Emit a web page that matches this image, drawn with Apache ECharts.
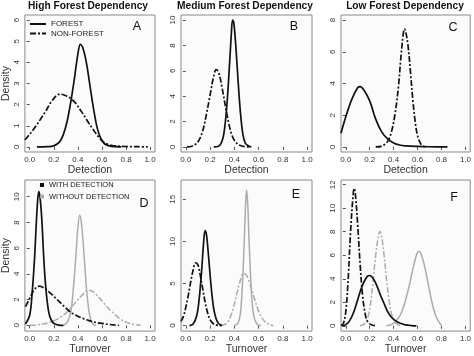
<!DOCTYPE html>
<html><head><meta charset="utf-8">
<script src="https://cdn.jsdelivr.net/npm/echarts/dist/echarts.min.js"></script>
<style>html,body{margin:0;padding:0;background:#fff}#c{width:474px;height:356px}</style>
</head><body><div id="c"></div>
<script>
// ---- data (x, density) ----
const X_TICKS = [0, 0.2, 0.4, 0.6, 0.8, 1.0];
const Y_TICKS_A = [0, 1, 2, 3, 4, 5, 6];
const Y_TICKS_B = [0, 2, 4, 6, 8, 10];
const Y_TICKS_C = [0, 2, 4, 6, 8];
const Y_TICKS_D = [0, 2, 4, 6, 8, 10];
const Y_TICKS_E = [0, 5, 10, 15];
const Y_TICKS_F = [0, 2, 4, 6, 8, 10, 12];

const PANEL_TITLES = ['High Forest Dependency', 'Medium Forest Dependency', 'Low Forest Dependency'];
const PANEL_LETTERS = ['A', 'B', 'C', 'D', 'E', 'F'];

// Panel A
const A_FOREST = [[0.06,0],[0.15,0.01],[0.2,0.05],[0.25,0.25],[0.28,0.6],[0.31,1.2],[0.34,2.1],[0.37,3.2],[0.40,4.4],[0.42,4.85],[0.44,4.7],[0.47,4.0],[0.50,2.9],[0.53,1.8],[0.56,0.9],[0.59,0.4],[0.62,0.15],[0.66,0.05],[0.72,0.01],[0.76,0]];
const A_NONFOREST = [[-0.04,0.33],[0.0,0.6],[0.05,0.98],[0.1,1.4],[0.13,1.67],[0.19,2.22],[0.25,2.5],[0.3,2.42],[0.36,2.2],[0.43,1.67],[0.49,1.13],[0.53,0.8],[0.57,0.48],[0.61,0.25],[0.65,0.12],[0.7,0.05],[0.8,0.02],[0.9,0.01],[0.98,0]];
// Panel B
const B_FOREST = [[0.23,0],[0.27,0.05],[0.30,0.5],[0.32,1.5],[0.34,3.5],[0.36,6.5],[0.375,8.9],[0.385,10.0],[0.395,9.8],[0.41,8.2],[0.43,5.3],[0.45,2.7],[0.47,1.0],[0.49,0.3],[0.52,0.05],[0.54,0]];
const B_NONFOREST = [[0.01,0],[0.05,0.05],[0.1,0.4],[0.14,1.3],[0.17,2.6],[0.20,4.1],[0.23,5.6],[0.25,6.1],[0.27,5.9],[0.30,4.6],[0.33,3.0],[0.36,1.6],[0.39,0.7],[0.43,0.2],[0.47,0.05],[0.52,0]];
// Panel C
const C_FOREST = [[-0.04,0.86],[0.0,1.9],[0.05,3.0],[0.1,3.75],[0.12,3.8],[0.15,3.6],[0.2,2.9],[0.25,1.75],[0.3,0.95],[0.35,0.5],[0.4,0.25],[0.45,0.12],[0.5,0.07],[0.6,0.03],[0.7,0.01],[0.85,0]];
const C_NONFOREST = [[0.25,0],[0.3,0.05],[0.35,0.35],[0.38,0.9],[0.41,2.0],[0.44,3.8],[0.46,5.6],[0.48,7.1],[0.49,7.45],[0.50,7.3],[0.52,6.4],[0.54,4.8],[0.56,3.0],[0.58,1.6],[0.60,0.7],[0.63,0.15],[0.66,0]];
// Panel D
const D_WITH_F = [[-0.035,0.1],[0.0,0.8],[0.02,2.5],[0.04,5.2],[0.055,8.0],[0.065,9.6],[0.075,10.4],[0.085,10.0],[0.1,8.3],[0.115,5.5],[0.13,3.3],[0.15,1.5],[0.17,0.6],[0.2,0.15],[0.24,0.02],[0.28,0]];
const D_WITH_NF = [[-0.035,1.45],[0.0,2.1],[0.04,2.8],[0.08,3.05],[0.12,2.9],[0.16,2.6],[0.2,2.25],[0.25,1.8],[0.3,1.35],[0.35,0.95],[0.4,0.7],[0.45,0.5],[0.5,0.35],[0.55,0.22],[0.6,0.15],[0.65,0.08],[0.7,0.03],[0.74,0]];
const D_WITHOUT_F = [[0.28,0],[0.31,0.2],[0.34,1.0],[0.36,2.6],[0.38,5.0],[0.40,7.6],[0.415,8.55],[0.43,7.9],[0.45,5.6],[0.47,3.0],[0.49,1.2],[0.51,0.35],[0.53,0.05],[0.55,0]];
const D_WITHOUT_NF = [[0.0,0],[0.1,0.08],[0.2,0.35],[0.25,0.6],[0.3,0.95],[0.35,1.45],[0.4,2.0],[0.45,2.5],[0.48,2.72],[0.52,2.65],[0.56,2.3],[0.6,1.9],[0.65,1.35],[0.7,0.9],[0.75,0.5],[0.8,0.25],[0.85,0.1],[0.92,0]];
// Panel E
const E_WITH_F = [[0.03,0],[0.06,0.2],[0.09,1.2],[0.11,3.2],[0.13,6.5],[0.145,9.6],[0.158,11.3],[0.17,10.8],[0.185,8.6],[0.2,6.0],[0.215,3.7],[0.23,2.0],[0.25,0.8],[0.27,0.25],[0.3,0]];
const E_WITH_NF = [[-0.04,0.5],[-0.02,1.1],[0.0,2.2],[0.02,3.6],[0.04,5.2],[0.06,6.6],[0.08,7.45],[0.1,7.2],[0.12,5.9],[0.14,4.3],[0.16,2.7],[0.18,1.5],[0.2,0.7],[0.23,0.2],[0.27,0.02],[0.29,0]];
const E_WITHOUT_F = [[0.40,0],[0.43,0.3],[0.45,1.5],[0.465,4.5],[0.48,9.5],[0.49,13.5],[0.50,16.1],[0.51,14.5],[0.52,10.5],[0.535,5.5],[0.55,2.2],[0.57,0.6],[0.6,0.05],[0.62,0]];
const E_WITHOUT_NF = [[0.29,0],[0.33,0.2],[0.36,0.8],[0.39,2.0],[0.42,3.8],[0.45,5.4],[0.475,6.2],[0.50,6.0],[0.53,4.9],[0.56,3.5],[0.59,2.1],[0.62,1.1],[0.65,0.5],[0.68,0.2],[0.72,0]];
// Panel F
const F_WITH_F = [[-0.03,0],[0.0,0.1],[0.03,0.4],[0.06,1.0],[0.09,1.9],[0.12,2.9],[0.15,3.7],[0.18,4.2],[0.2,4.28],[0.23,4.0],[0.26,3.4],[0.29,2.6],[0.32,1.9],[0.35,1.2],[0.38,0.75],[0.42,0.4],[0.46,0.2],[0.5,0.08],[0.55,0.02],[0.59,0]];
const F_WITH_NF = [[-0.04,0.02],[-0.02,0.2],[0.0,1.2],[0.02,4.0],[0.04,8.0],[0.06,11.0],[0.07,11.7],[0.08,11.2],[0.1,8.5],[0.12,5.2],[0.14,2.6],[0.16,1.1],[0.18,0.4],[0.21,0.1],[0.25,0]];
const F_WITHOUT_F = [[0.34,0],[0.38,0.1],[0.42,0.4],[0.46,1.0],[0.5,2.2],[0.53,3.4],[0.56,4.8],[0.59,6.0],[0.61,6.35],[0.63,6.1],[0.66,5.0],[0.69,3.5],[0.72,2.0],[0.75,0.9],[0.78,0.3],[0.8,0.05]];
const F_WITHOUT_NF = [[0.12,0],[0.16,0.2],[0.19,0.9],[0.21,2.1],[0.23,4.0],[0.25,6.0],[0.27,7.5],[0.285,8.05],[0.3,7.6],[0.32,6.0],[0.34,4.0],[0.36,2.3],[0.38,1.1],[0.41,0.35],[0.44,0.08],[0.47,0]];

// ---- styling / layout ----
const FONT = "'Liberation Sans', Arial, sans-serif";
const BLACK = '#111111', GRAY = '#ababab';
const SOLID = 'solid', DASH = [6, 2, 2, 2];

const panels = [
  {grid:{left:22, top:15, width:133, height:137}, y:[-0.24,6.24], yt:Y_TICKS_A, xname:'Detection', yname:'Density',
   series:[['FOREST',A_FOREST,BLACK,SOLID],['NON-FOREST',A_NONFOREST,BLACK,DASH]]},
  {grid:{left:181, top:15, width:131, height:137}, y:[-0.4,10.4], yt:Y_TICKS_B, xname:'Detection', yname:'',
   series:[['B forest',B_FOREST,BLACK,SOLID],['B non-forest',B_NONFOREST,BLACK,DASH]]},
  {grid:{left:341, top:15, width:131, height:137}, y:[-0.32,8.32], yt:Y_TICKS_C, xname:'Detection', yname:'',
   series:[['C forest',C_FOREST,BLACK,SOLID],['C non-forest',C_NONFOREST,BLACK,DASH]]},
  {grid:{left:22, top:180, width:133, height:155}, y:[-0.45,11.3], yt:Y_TICKS_D, xname:'Turnover', yname:'Density',
   series:[['D with nf',D_WITH_NF,BLACK,DASH],['D without nf',D_WITHOUT_NF,GRAY,DASH],['WITHOUT DETECTION',D_WITHOUT_F,GRAY,SOLID],['WITH DETECTION',D_WITH_F,BLACK,SOLID]]},
  {grid:{left:181, top:180, width:131, height:155}, y:[-0.65,17.3], yt:Y_TICKS_E, xname:'Turnover', yname:'',
   series:[['E with nf',E_WITH_NF,BLACK,DASH],['E without nf',E_WITHOUT_NF,GRAY,DASH],['E without f',E_WITHOUT_F,GRAY,SOLID],['E with f',E_WITH_F,BLACK,SOLID]]},
  {grid:{left:341, top:180, width:131, height:155}, y:[-0.45,12.4], yt:Y_TICKS_F, xname:'Turnover', yname:'',
   series:[['F with nf',F_WITH_NF,BLACK,DASH],['F without nf',F_WITHOUT_NF,GRAY,DASH],['F without f',F_WITHOUT_F,GRAY,SOLID],['F with f',F_WITH_F,BLACK,SOLID]]}
];
const letterPos = [[137,27],[294,27],[453,28],[144,204],[296,195],[454,198]];
const titlePos = [[88,6],[245,6],[405,6]];

const grid = [], xAxis = [], yAxis = [], series = [], title = [];
panels.forEach((p, i) => {
  grid.push(Object.assign({show:true, borderColor:'#8a8a8a', borderWidth:1, backgroundColor:'#fbfbfb'}, p.grid));
  xAxis.push({type:'value', gridIndex:i, min:-0.04, max:1.04,
    name:p.xname, nameLocation:'middle', nameGap:9,
    nameTextStyle:{fontFamily:FONT, fontSize:10.5, color:'#333'},
    axisLine:{show:false}, splitLine:{show:false},
    axisTick:{show:true, length:3, customValues:X_TICKS, lineStyle:{color:'#555'}},
    axisLabel:{customValues:X_TICKS, formatter:v => v.toFixed(1), fontFamily:FONT, fontSize:8, color:'#333', margin:4}});
  yAxis.push({type:'value', gridIndex:i, min:p.y[0], max:p.y[1],
    name:p.yname, nameLocation:'middle', nameGap:12,
    nameTextStyle:{fontFamily:FONT, fontSize:10.5, color:'#333'},
    axisLine:{show:false}, splitLine:{show:false},
    axisTick:{show:true, length:3, customValues:p.yt, lineStyle:{color:'#555'}},
    axisLabel:{customValues:p.yt, rotate:90, fontFamily:FONT, fontSize:8, color:'#333', margin:4}});
  p.series.forEach(s => {
    series.push({type:'line', name:s[0], xAxisIndex:i, yAxisIndex:i, data:s[1], showSymbol:false, symbol:'none',
      smooth:0.35, color:s[2], lineStyle:{color:s[2], width:s[2]===BLACK?1.7:1.5, type:s[3]}, silent:true, z: s[2]===BLACK?3:2});
  });
  title.push({text:PANEL_LETTERS[i], left:letterPos[i][0], top:letterPos[i][1], textAlign:'center', textVerticalAlign:'middle',
    padding:0, textStyle:{fontFamily:FONT, fontSize:12.5, fontWeight:'normal', color:'#111'}});
});
PANEL_TITLES.forEach((t, i) => {
  title.push({text:t, left:titlePos[i][0], top:titlePos[i][1], textAlign:'center', textVerticalAlign:'middle', padding:0,
    textStyle:{fontFamily:FONT, fontSize:10.2, fontWeight:'bold', color:'#111'}});
});

const chart = echarts.init(document.getElementById('c'), null, {renderer:'canvas'});
chart.setOption({
  animation:false,
  backgroundColor:'#ffffff',
  title, grid, xAxis, yAxis, series,
  legend:[
    {data:['FOREST','NON-FOREST'], orient:'vertical', left:29, top:20, itemWidth:16, itemHeight:8, itemGap:1.5, padding:0,
     selectedMode:false, itemStyle:{opacity:0, borderWidth:0}, textStyle:{fontFamily:FONT, fontSize:8, color:'#222'}},
    {data:[{name:'WITH DETECTION', icon:'rect'},{name:'WITHOUT DETECTION', icon:'rect'}], orient:'vertical', left:40, top:181,
     itemWidth:4, itemHeight:4, itemGap:3.5, padding:0, selectedMode:false, textStyle:{fontFamily:FONT, fontSize:7.5, color:'#222'}}
  ]
});
</script></body></html>
